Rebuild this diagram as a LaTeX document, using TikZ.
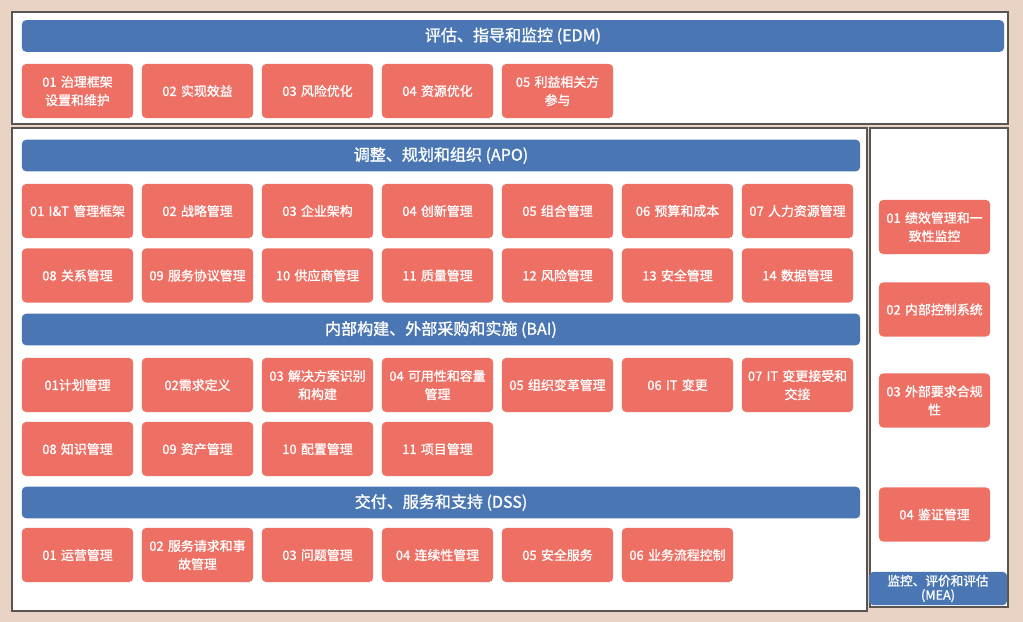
\documentclass[tikz,border=0pt]{standalone}
\usepackage{fontspec}
\setmainfont{Noto Sans CJK SC}
\newfontfamily\boxfont{Noto Sans CJK SC}[RawFeature={embolden=1.2}]
\usetikzlibrary{positioning}

\definecolor{bgbeige}{HTML}{E8D3C5}
\definecolor{hdrblue}{HTML}{4A77B4}
\definecolor{boxred}{HTML}{EE6F63}
\definecolor{panelgray}{HTML}{5A5552}

\tikzset{
  panel/.style = {draw=panelgray, fill=white, line width=0.9pt},
  hdr/.style   = {fill=hdrblue, rounded corners=3pt, text=white,
                  font=\boxfont\fontsize{11.4}{14}\selectfont,
                  minimum height=0.79cm, inner sep=0pt},
  proc/.style  = {fill=boxred, rounded corners=3pt, text=white,
                  font=\boxfont\fontsize{9.2}{13}\selectfont, align=center,
                  minimum width=2.78cm, minimum height=1.35cm,
                  text width=2.6cm, inner sep=0pt}
}

\begin{document}
\begin{tikzpicture}[x=0.025cm, y=-0.025cm]
  \fill[bgbeige] (0,0) rectangle (1023,622);
  \useasboundingbox (0,0) rectangle (1023,622);

  % panels
  \draw[panel] (12,12) rectangle (1008,124);
  \draw[panel] (12,128) rectangle (867,611);
  \draw[panel] (870,128) rectangle (1008,607);

  % EDM
  \node[hdr, minimum width=24.55cm] (edm) at (513,36) {评估、指导和监控 (EDM)};
  \node[proc] (edm1) at (77.5,91)  {01 治理框架\\设置和维护};
  \node[proc] (edm2) at (197.5,91) {02 实现效益};
  \node[proc] (edm3) at (317.5,91) {03 风险优化};
  \node[proc] (edm4) at (437.5,91) {04 资源优化};
  \node[proc] (edm5) at (557.5,91) {05 利益相关方\\参与};

  % APO
  \node[hdr, minimum width=20.95cm] (apo) at (441,155.5) {调整、规划和组织 (APO)};
  \node[proc] (apo1)  at (77.5,211)  {01 I\&T 管理框架};
  \node[proc] (apo2)  at (197.5,211) {02 战略管理};
  \node[proc] (apo3)  at (317.5,211) {03 企业架构};
  \node[proc] (apo4)  at (437.5,211) {04 创新管理};
  \node[proc] (apo5)  at (557.5,211) {05 组合管理};
  \node[proc] (apo6)  at (677.5,211) {06 预算和成本};
  \node[proc] (apo7)  at (797.5,211) {07 人力资源管理};
  \node[proc] (apo8)  at (77.5,275.5)  {08 关系管理};
  \node[proc] (apo9)  at (197.5,275.5) {09 服务协议管理};
  \node[proc] (apo10) at (317.5,275.5) {10 供应商管理};
  \node[proc] (apo11) at (437.5,275.5) {11 质量管理};
  \node[proc] (apo12) at (557.5,275.5) {12 风险管理};
  \node[proc] (apo13) at (677.5,275.5) {13 安全管理};
  \node[proc] (apo14) at (797.5,275.5) {14 数据管理};

  % BAI
  \node[hdr, minimum width=20.95cm] (bai) at (441,329.5) {内部构建、外部采购和实施 (BAI)};
  \node[proc] (bai1)  at (77.5,385)  {01计划管理};
  \node[proc] (bai2)  at (197.5,385) {02需求定义};
  \node[proc] (bai3)  at (317.5,385) {03 解决方案识别\\和构建};
  \node[proc] (bai4)  at (437.5,385) {04 可用性和容量\\管理};
  \node[proc] (bai5)  at (557.5,385) {05 组织变革管理};
  \node[proc] (bai6)  at (677.5,385) {06 IT 变更};
  \node[proc] (bai7)  at (797.5,385) {07 IT 变更接受和\\交接};
  \node[proc] (bai8)  at (77.5,449)  {08 知识管理};
  \node[proc] (bai9)  at (197.5,449) {09 资产管理};
  \node[proc] (bai10) at (317.5,449) {10 配置管理};
  \node[proc] (bai11) at (437.5,449) {11 项目管理};

  % DSS
  \node[hdr, minimum width=20.95cm] (dss) at (441,502.5) {交付、服务和支持 (DSS)};
  \node[proc] (dss1) at (77.5,555)  {01 运营管理};
  \node[proc] (dss2) at (197.5,555) {02 服务请求和事\\故管理};
  \node[proc] (dss3) at (317.5,555) {03 问题管理};
  \node[proc] (dss4) at (437.5,555) {04 连续性管理};
  \node[proc] (dss5) at (557.5,555) {05 安全服务};
  \node[proc] (dss6) at (677.5,555) {06 业务流程控制};

  % MEA
  \node[proc] (mea1) at (934.5,227)   {01 绩效管理和一\\致性监控};
  \node[proc] (mea2) at (934.5,309.5) {02 内部控制系统};
  \node[proc] (mea3) at (934.5,400.5) {03 外部要求合规\\性};
  \node[proc] (mea4) at (934.5,514.5) {04 鉴证管理};
  \node[hdr, minimum width=3.45cm, minimum height=0.83cm, align=center,
        font=\boxfont\fontsize{9}{10}\selectfont] (mea) at (938,588.5) {监控、评价和评估\\(MEA)};
\end{tikzpicture}
\end{document}
